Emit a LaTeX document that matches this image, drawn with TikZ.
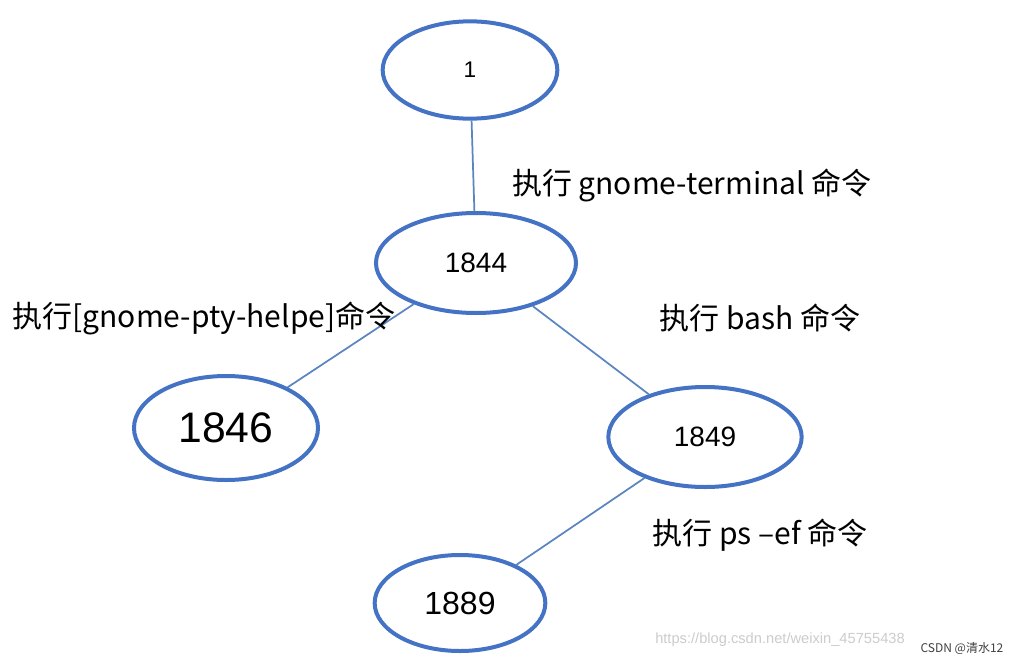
\documentclass[tikz,border=0pt]{standalone}
\usepackage{fontspec}
\setmainfont{Liberation Sans}
\newfontfamily\cjk{Noto Sans CJK SC}
\usetikzlibrary{shapes.geometric}
\definecolor{eb}{HTML}{4472C4}
\definecolor{lb}{HTML}{5B85C0}
\begin{document}
\begin{tikzpicture}[x=0.75pt,y=-0.75pt,
  proc/.style={ellipse,draw=eb,line width=3pt,fill=white,inner sep=0pt},
  conn/.style={draw=lb,line width=1.3pt},
  lab/.style={font=\cjk\fontsize{22.5}{26}\selectfont,inner sep=0pt}]
\useasboundingbox[fill=white] (0,0) rectangle (1024,664);
\node[proc,minimum width=131pt,minimum height=73pt,font=\fontsize{17}{20}\selectfont] (n1) at (470,70) {1};
\node[proc,minimum width=150pt,minimum height=75pt,font=\fontsize{21}{24}\selectfont] (n1844) at (476,263) {1844};
\node[proc,minimum width=138pt,minimum height=78pt,font=\fontsize{32}{36}\selectfont] (n1846) at (226,428) {1846};
\node[proc,minimum width=145pt,minimum height=75pt,font=\fontsize{21}{24}\selectfont] (n1849) at (705,437) {1849};
\node[proc,minimum width=128pt,minimum height=72pt,font=\fontsize{24}{28}\selectfont] (n1889) at (460,603) {1889};
\draw[conn] (n1) -- (n1844);
\draw[conn] (n1844) -- (n1846);
\draw[conn] (n1844) -- (n1849);
\draw[conn] (n1849) -- (n1889);
\node[lab] (l1) at (692,185) {执行 gnome-terminal 命令};
\node[lab] (l2) at (204,318) {执行[gnome-pty-helpe]命令};
\node[lab] (l3) at (760,318) {执行 bash 命令};
\node[lab] (l4) at (760,535) {执行 ps –ef 命令};
\node[font=\fontsize{11}{13}\selectfont,text=black!20,inner sep=0pt] (wm) at (780,640) {https://blog.csdn.net/weixin\_45755438};
\node[font=\cjk\fontsize{9}{11}\selectfont,text=black!75,inner sep=0pt] (wm2) at (962,648) {CSDN @清水12};
\end{tikzpicture}
\end{document}
